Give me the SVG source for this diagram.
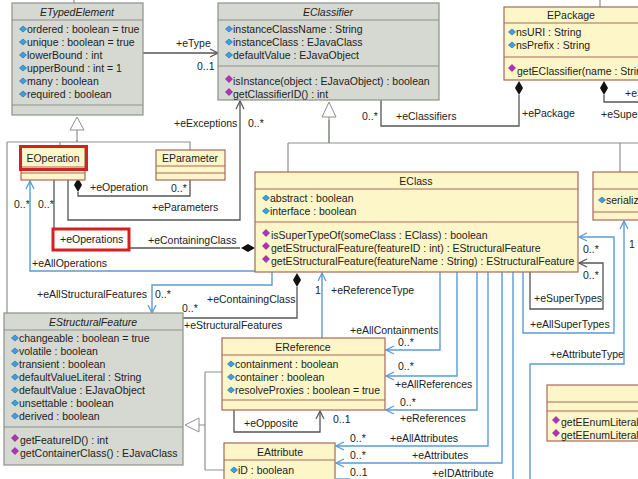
<svg xmlns="http://www.w3.org/2000/svg" xmlns:xlink="http://www.w3.org/1999/xlink" width="638" height="479" viewBox="0 0 638 479">
<style>
text{font-family:"Liberation Sans",Arial,sans-serif;font-size:10.5px;fill:#222}
.c{text-anchor:middle}.i{font-style:italic}
.g{fill:#d5d9d1;stroke:#8c918a;stroke-width:1.2}
.y{fill:#fdf6c9;stroke:#a8685a;stroke-width:1.2}
.gl{fill:none;stroke:#8c918a;stroke-width:1.2}
.yl{fill:none;stroke:#a8685a;stroke-width:1.2}
.k{fill:none;stroke:#555;stroke-width:1.3}
.b{fill:none;stroke:#5b9bd5;stroke-width:1.4}
.r{fill:none;stroke:#d42020;stroke-width:3}
</style>
<defs>
<polygon id="a" points="0,-3 3.5,0 0,3 -3.5,0" fill="#3aa0e0" stroke="#1a5fa0" stroke-width="0.6"/>
<polygon id="o" points="0,-3.5 3.5,0 0,3.5 -3.5,0" fill="#b030c0" stroke="#701080" stroke-width="0.6"/>
<polygon id="d" points="0,-7 4,0 0,7 -4,0" fill="#111"/>
<marker id="ar" markerWidth="10" markerHeight="10" refX="9" refY="5" orient="auto" markerUnits="userSpaceOnUse"><path d="M1,1 L9,5 L1,9" fill="none" stroke="#555" stroke-width="1.2"/></marker>
<marker id="ab" markerWidth="10" markerHeight="10" refX="9" refY="5" orient="auto" markerUnits="userSpaceOnUse"><path d="M1,1 L9,5 L1,9" fill="none" stroke="#5b9bd5" stroke-width="1.3"/></marker>
</defs>

<g id="connectors">
<path class="gl" d="M74,0V3M600,0V7M77,140V142M7,142H190V150M60,142V147M7,142V313M329,120V143M288,143H638M288,143V172M620,143V172"/>
<polygon points="77,117 70,130 84,130" fill="#fff" stroke="#8c918a"/>
<path class="gl" d="M77,130V142"/>
<polygon points="329,102 322,117 336,117" fill="#fff" stroke="#8c918a"/>
<path class="gl" d="M329,117V143"/>
<polygon points="185,425 199,418 199,432" fill="#fff" stroke="#8c918a"/>
<path class="gl" d="M199,425H205M205,372V470M205,372H222M205,470H224"/>
<path class="k" d="M143,53H218" marker-end="url(#ar)"/>
<text x="176" y="47">+eType</text><text x="197" y="70">0..1</text>
<use xlink:href="#d" x="78" y="185"/>
<path class="k" d="M78,192V196H190V180"/>
<text x="90" y="191">+eOperation</text><text x="171" y="192">0..*</text><text x="152" y="211">+eParameters</text>
<path class="k" d="M68,180V220H240V101" marker-end="url(#ar)"/>
<text x="174" y="127">+eExceptions</text><text x="248" y="127">0..*</text>
<path class="k" d="M54,180V229M130,248H240"/>
<use xlink:href="#d" x="248" y="248" transform="rotate(90 248 248)"/>
<text x="14" y="208">0..*</text><text x="38" y="208">0..*</text>
<text x="148" y="244">+eContainingClass</text>
<path class="b" d="M255,271H30V181" marker-end="url(#ab)"/>
<text x="32" y="267">+eAllOperations</text>
<use xlink:href="#d" x="297" y="280"/>
<path class="k" d="M297,287V318H183"/>
<text x="207" y="303">+eContainingClass</text><text x="182" y="312">0..*</text><text x="184" y="329">+eStructuralFeatures</text>
<path class="b" d="M272,272V285H152V313" marker-end="url(#ab)"/>
<text x="37" y="298">+eAllStructuralFeatures</text><text x="155" y="298">0..*</text>
<path class="b" d="M322,338V273" marker-end="url(#ab)"/>
<text x="315" y="294">1</text><text x="331" y="294">+eReferenceType</text>
<path class="k" d="M234,410V432H320V411" marker-end="url(#ar)"/>
<text x="244" y="427">+eOpposite</text><text x="333" y="423">0..1</text>
<path class="b" d="M440,272V350H386" marker-end="url(#ab)"/>
<text x="350" y="334">+eAllContainments</text><text x="398" y="346">0..*</text>
<path class="b" d="M457,272V376H386" marker-end="url(#ab)"/>
<text x="398" y="370">0..*</text><text x="395" y="388">+eAllReferences</text>
<path class="b" d="M477,272V410H386" marker-end="url(#ab)"/>
<text x="400" y="406">0..*</text><text x="400" y="422">+eReferences</text>
<path class="b" d="M488,272V446H336" marker-end="url(#ab)"/>
<text x="350" y="442">0..*</text><text x="390" y="442">+eAllAttributes</text>
<path class="b" d="M502,272V463H336" marker-end="url(#ab)"/>
<text x="350" y="459">0..*</text><text x="412" y="459">+eAttributes</text>
<path class="b" d="M513,272V479"/>
<path class="b" d="M336,479H350"/>
<text x="350" y="476">0..1</text><text x="432" y="477">+eIDAttribute</text>
<path class="k" d="M530,272V309H603V263H579" marker-end="url(#ar)"/>
<text x="583" y="279">0..*</text><text x="534" y="302">+eSuperTypes</text>
<path class="b" d="M523,272V333H614V237H579" marker-end="url(#ab)"/>
<text x="583" y="253">0..*</text><text x="530" y="328">+eAllSuperTypes</text>
<path class="b" d="M530,479V364H624V221" marker-end="url(#ab)"/>
<text x="550" y="358">+eAttributeType</text><text x="629" y="248">1</text>
<use xlink:href="#d" x="519" y="88"/>
<path class="k" d="M519,95V126H381V100"/>
<text x="362" y="120">0..*</text><text x="396" y="120">+eClassifiers</text><text x="522" y="117">+ePackage</text>
<use xlink:href="#d" x="604" y="88"/>
<path class="k" d="M604,95V102H638"/>
<text x="625" y="97">+eS</text><text x="601" y="118">+eSuper</text>
</g>

<g id="ETypedElement">
<rect class="g" x="12" y="3" width="131" height="112"/>
<path class="gl" d="M12,20H143M12,105H143"/>
<text x="77" y="16" class="c i">ETypedElement</text>
<use xlink:href="#a" x="23" y="29"/><text x="27" y="33">ordered : boolean = true</text>
<use xlink:href="#a" x="23" y="42"/><text x="27" y="46">unique : boolean = true</text>
<use xlink:href="#a" x="23" y="55"/><text x="27" y="59">lowerBound : int</text>
<use xlink:href="#a" x="23" y="68"/><text x="27" y="72">upperBound : int = 1</text>
<use xlink:href="#a" x="23" y="81"/><text x="27" y="85">many : boolean</text>
<use xlink:href="#a" x="23" y="94"/><text x="27" y="98">required : boolean</text>
</g>

<g id="EClassifier">
<rect class="g" x="218" y="3" width="221" height="97"/>
<path class="gl" d="M218,20H439M218,66H439"/>
<text x="328" y="16" class="c i">EClassifier</text>
<use xlink:href="#a" x="229" y="29"/><text x="233" y="33">instanceClassName : String</text>
<use xlink:href="#a" x="229" y="42"/><text x="233" y="46">instanceClass : EJavaClass</text>
<use xlink:href="#a" x="229" y="55"/><text x="233" y="59">defaultValue : EJavaObject</text>
<use xlink:href="#o" x="229" y="79"/><text x="233" y="85">isInstance(object : EJavaObject) : boolean</text>
<use xlink:href="#o" x="229" y="92"/><text x="233" y="98">getClassifierID() : int</text>
</g>

<g id="EPackage">
<rect class="y" x="504" y="7" width="140" height="73"/>
<path class="yl" d="M504,23H638M504,57H638"/>
<text x="571" y="19" class="c">EPackage</text>
<use xlink:href="#a" x="512" y="32"/><text x="516" y="36">nsURI : String</text>
<use xlink:href="#a" x="512" y="45"/><text x="516" y="49">nsPrefix : String</text>
<use xlink:href="#o" x="512" y="68"/><text x="517" y="75">getEClassifier(name : String)</text>
</g>

<g id="EOperation">
<rect class="y" x="21" y="147" width="64" height="33"/>
<path class="yl" d="M21,167H85M21,173H85"/>
<text x="53" y="162" class="c">EOperation</text>
<rect class="r" x="20.5" y="146.5" width="66" height="23"/>
</g>

<g id="EParameter">
<rect class="y" x="156" y="150" width="69" height="30"/>
<path class="yl" d="M156,166H225M156,173H225"/>
<text x="190" y="162" class="c">EParameter</text>
</g>

<g id="eOperationsLabel">
<rect x="53" y="229" width="76" height="21" fill="#fff" stroke="#d42020" stroke-width="3"/>
<text x="60" y="243">+eOperations</text>
</g>

<g id="EClass">
<rect class="y" x="255" y="172" width="323" height="100"/>
<path class="yl" d="M255,189H578M255,222H578"/>
<text x="416" y="185" class="c">EClass</text>
<use xlink:href="#a" x="266" y="198"/><text x="270" y="202">abstract : boolean</text>
<use xlink:href="#a" x="266" y="211"/><text x="270" y="215">interface : boolean</text>
<use xlink:href="#o" x="266" y="233"/><text x="271" y="239">isSuperTypeOf(someClass : EClass) : boolean</text>
<use xlink:href="#o" x="266" y="246"/><text x="271" y="252">getEStructuralFeature(featureID : int) : EStructuralFeature</text>
<use xlink:href="#o" x="266" y="259"/><text x="271" y="265">getEStructuralFeature(featureName : String) : EStructuralFeature</text>
</g>

<g id="EDataType">
<rect class="y" x="593" y="172" width="50" height="48"/>
<path class="yl" d="M593,189H638M593,212H638"/>
<use xlink:href="#a" x="602" y="200"/><text x="606" y="204">serializ</text>
</g>

<g id="EStructuralFeature">
<rect class="g" x="4" y="313" width="179" height="152"/>
<path class="gl" d="M4,330H183M4,427H183"/>
<text x="93" y="326" class="c i">EStructuralFeature</text>
<use xlink:href="#a" x="15" y="338"/><text x="19" y="342">changeable : boolean = true</text>
<use xlink:href="#a" x="15" y="351"/><text x="19" y="355">volatile : boolean</text>
<use xlink:href="#a" x="15" y="364"/><text x="19" y="368">transient : boolean</text>
<use xlink:href="#a" x="15" y="377"/><text x="19" y="381">defaultValueLiteral : String</text>
<use xlink:href="#a" x="15" y="390"/><text x="19" y="394">defaultValue : EJavaObject</text>
<use xlink:href="#a" x="15" y="403"/><text x="19" y="407">unsettable : boolean</text>
<use xlink:href="#a" x="15" y="416"/><text x="19" y="420">derived : boolean</text>
<use xlink:href="#o" x="15" y="438"/><text x="20" y="444">getFeatureID() : int</text>
<use xlink:href="#o" x="15" y="451"/><text x="20" y="457">getContainerClass() : EJavaClass</text>
</g>

<g id="EReference">
<rect class="y" x="222" y="338" width="163" height="72"/>
<path class="yl" d="M222,355H385M222,400H385"/>
<text x="303" y="351" class="c">EReference</text>
<use xlink:href="#a" x="231" y="364"/><text x="235" y="368">containment : boolean</text>
<use xlink:href="#a" x="231" y="377"/><text x="235" y="381">container : boolean</text>
<use xlink:href="#a" x="231" y="390"/><text x="235" y="394">resolveProxies : boolean = true</text>
</g>

<g id="EAttribute">
<rect class="y" x="224" y="443" width="111" height="45"/>
<path class="yl" d="M224,460H335"/>
<text x="280" y="456" class="c">EAttribute</text>
<use xlink:href="#a" x="234" y="470"/><text x="238" y="474">iD : boolean</text>
</g>

<g id="EEnum">
<rect class="y" x="547" y="385" width="96" height="56"/>
<path class="yl" d="M547,402H638M547,411H638"/>
<use xlink:href="#o" x="556" y="420"/><text x="561" y="426">getEEnumLiteral</text>
<use xlink:href="#o" x="556" y="433"/><text x="561" y="439">getEEnumLiteral</text>
</g>
</svg>
